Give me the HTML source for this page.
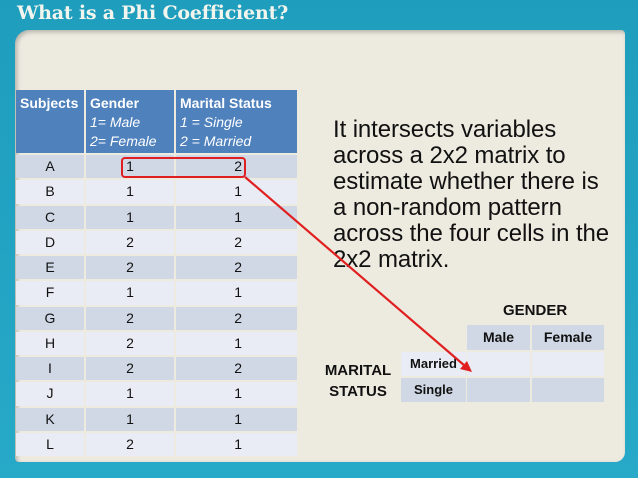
<!DOCTYPE html>
<html><head><meta charset="utf-8"><style>
body{margin:0;width:638px;height:478px;overflow:hidden;background:#2aa6c4;font-family:"Liberation Sans",sans-serif;position:relative}
#frame{position:absolute;left:0;top:0;width:638px;height:478px;background:linear-gradient(#1f9dbd,#27a9c8);}
#panel{position:absolute;left:15px;top:30px;width:610px;height:432px;background:#edebe0;border-radius:14px 4px 10px 4px;box-shadow:inset 2px 2px 4px rgba(0,0,0,.25)}
#title{position:absolute;left:17px;top:2px;color:#f2f5ee;font:bold 19px "DejaVu Serif",serif;letter-spacing:-0.2px}
.c{position:absolute;box-sizing:border-box;font-size:14px;color:#111}
.h{background:#4f81bd;color:#fff;font-weight:bold;padding:4px 4px;line-height:19px}
.h i{font-weight:normal}
#para{position:absolute;left:333px;top:117px;font-size:24px;line-height:26px;color:#111;letter-spacing:-0.1px;white-space:nowrap}
</style></head><body>
<div id="frame"></div>
<div id="panel"></div>
<div id="title">What is a Phi Coefficient?</div>
<div id="tbl"></div>
<div id="para">It intersects variables<br>across a 2x2 matrix to<br>estimate whether there is<br>a non-random pattern<br>across the four cells in the<br>2x2 matrix.</div>
<div class="c" style="left:503px;top:302px;font-weight:bold;font-size:15px">GENDER</div>
<div class="c" style="left:320px;top:360px;font-weight:bold;font-size:15px;text-align:center;line-height:21px;width:76px">MARITAL<br>STATUS</div>
<div id="mx"></div>
<svg width="638" height="478" style="position:absolute;left:0;top:0">
<rect x="122" y="158" width="123" height="19" rx="3" fill="none" stroke="#e02020" stroke-width="2"/>
<line x1="245" y1="177" x2="465" y2="366" stroke="#e02020" stroke-width="2.2"/>
<polygon points="472,372 460,369 467,361" fill="#e02020"/>
</svg>
<script>
const subjects=["A","B","C","D","E","F","G","H","I","J","K","L"];
const gender=[1,1,1,2,2,1,2,2,2,1,1,2];
const marital=[2,1,1,2,2,1,2,1,2,1,1,1];
const tbl=document.getElementById('tbl');
function cell(parent,x,y,w,h,html,cls,style){const d=document.createElement('div');d.className='c '+(cls||'');d.style.cssText=`left:${x}px;top:${y}px;width:${w}px;height:${h}px;`+(style||'');d.innerHTML=html;parent.appendChild(d);return d;}
let hd=cell(tbl,16,90,68,63,'Subjects','h');


hd=cell(tbl,86,90,88,63,'Gender<br><i>1= Male<br>2= Female</i>','h');


hd=cell(tbl,176,90,121,63,'Marital Status<br><i>1 = Single<br>2 = Married</i>','h');


const rh=25.25;
subjects.forEach((s,i)=>{
 const y=155+i*rh, bg=i%2?'#e9ecf4':'#d0d7e5';
 const st=`background:${bg};line-height:${rh-2}px;`;
 let a=cell(tbl,16,y,68,rh-2,s,'',st+'text-align:center');
 
 
 let b=cell(tbl,86,y,88,rh-2,gender[i],'',st+'text-align:center');
 
 
 let c=cell(tbl,176,y,121,rh-2,marital[i],'',st+'text-align:right;padding-right:55px');
 
 
});
const mx=document.getElementById('mx');
const B='font-weight:bold;text-align:center;line-height:24px;font-size:14px;';
let m=cell(mx,467,325,63,25,'Male','',B+'background:#d0d7e5');


m=cell(mx,532,325,72,25,'Female','',B+'background:#d0d7e5');


m=cell(mx,401,352,65,24,'Married','',B+'background:#e9ecf4;font-size:13px');


m=cell(mx,401,378,65,24,'Single','',B+'background:#d0d7e5;font-size:13px');


[[467,352,63,'#e9ecf4'],[532,352,72,'#e9ecf4'],[467,378,63,'#d0d7e5'],[532,378,72,'#d0d7e5']].forEach(p=>{
 const e=cell(mx,p[0],p[1],p[2],24,'','','background:'+p[3]);
 
 
});
</script>
</body></html>
